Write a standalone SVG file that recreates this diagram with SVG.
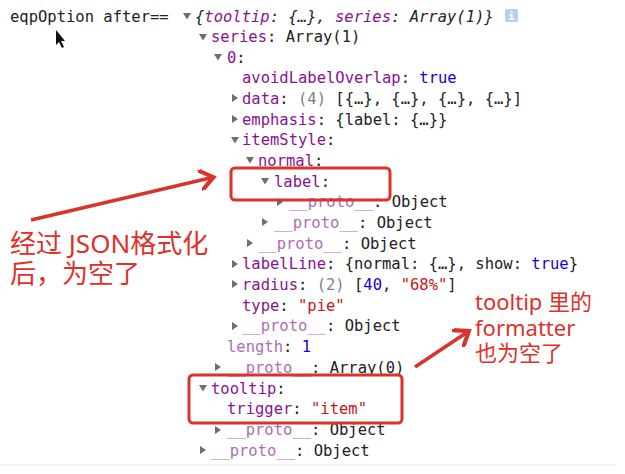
<svg xmlns="http://www.w3.org/2000/svg" width="625" height="474" viewBox="0 0 625 474">
<defs>
<style>
text{font-family:"DejaVu Sans Mono","Liberation Mono",monospace;font-size:15.5px;fill:#222}
.k{fill:#881391}.s{fill:#c41a16}.n{fill:#1c00cf}.g{fill:#808080}.p{fill:#b06cb6}
.r{font-family:"Noto Sans","Noto Sans CJK SC",sans-serif;fill:#e0302a}
.box{fill:none;stroke:#d9342b;stroke-width:3}
.arr{stroke:#d9342b;stroke-width:3.5;fill:none}
</style>
<marker id="ah" markerWidth="6" markerHeight="6" refX="3" refY="3" orient="auto" markerUnits="strokeWidth"><path d="M0,0 L4,3 L0,6" fill="none" stroke="#d9342b" stroke-width="1.2"/></marker>
<path id="tr" d="M0,-4 L6,0 L0,4Z" fill="#6e6e6e"/>
<path id="td" d="M-4,-3 L4,-3 L0,3.5Z" fill="#6e6e6e"/>
</defs>
<rect width="625" height="474" fill="#fff"/>
<g id="console">
<text x="10" y="22">eqpOption after==</text>
<use href="#td" x="187" y="16"/><text x="195" y="22" font-style="italic">{<tspan class="k">tooltip</tspan>: {…}, <tspan class="k">series</tspan>: Array(1)}</text>
<rect x="505" y="9" width="13" height="13" rx="2" fill="#b8cdf0"/><text x="508" y="20" style="fill:#fff;font-size:11px;font-weight:bold">i</text>
<use href="#td" x="203" y="37"/><text x="211" y="42"><tspan class="k">series</tspan>: Array(1)</text>
<use href="#td" x="218" y="57"/><text x="227" y="63"><tspan class="k">0</tspan>:</text>
<text x="242" y="83"><tspan class="k">avoidLabelOverlap</tspan>: <tspan class="n">true</tspan></text>
<use href="#tr" x="232" y="98"/><text x="242" y="104"><tspan class="k">data</tspan>: <tspan class="g">(4)</tspan> [{…}, {…}, {…}, {…}]</text>
<use href="#tr" x="232" y="119"/><text x="242" y="125"><tspan class="k">emphasis</tspan>: {label: {…}}</text>
<use href="#td" x="235" y="140"/><text x="242" y="145"><tspan class="k">itemStyle</tspan>:</text>
<use href="#td" x="250" y="160"/><text x="258" y="166"><tspan class="k">normal</tspan>:</text>
<use href="#td" x="265" y="181"/><text x="274" y="187"><tspan class="k">label</tspan>:</text>
<use href="#tr" x="277" y="202"/><text x="289" y="207"><tspan class="p">__proto__</tspan>: Object</text>
<use href="#tr" x="262" y="222"/><text x="274" y="228"><tspan class="p">__proto__</tspan>: Object</text>
<use href="#tr" x="247" y="243"/><text x="258" y="249"><tspan class="p">__proto__</tspan>: Object</text>
<use href="#tr" x="232" y="264"/><text x="242" y="269"><tspan class="k">labelLine</tspan>: {normal: {…}, show: <tspan class="n">true</tspan>}</text>
<use href="#tr" x="232" y="284"/><text x="242" y="290"><tspan class="k">radius</tspan>: <tspan class="g">(2)</tspan> [<tspan class="n">40</tspan>, <tspan class="s">"68%"</tspan>]</text>
<text x="242" y="311"><tspan class="k">type</tspan>: <tspan class="s">"pie"</tspan></text>
<use href="#tr" x="232" y="326"/><text x="242" y="331"><tspan class="p">__proto__</tspan>: Object</text>
<text x="227" y="352"><tspan class="p">length</tspan>: <tspan class="n">1</tspan></text>
<use href="#tr" x="215" y="367"/><text x="227" y="373"><tspan class="p">__proto__</tspan>: Array(0)</text>
<use href="#td" x="203" y="388"/><text x="211" y="394"><tspan class="k">tooltip</tspan>:</text>
<text x="227" y="414"><tspan class="k">trigger</tspan>: <tspan class="s">"item"</tspan></text>
<use href="#tr" x="215" y="430"/><text x="227" y="435"><tspan class="p">__proto__</tspan>: Object</text>
<use href="#tr" x="200" y="450"/><text x="211" y="456"><tspan class="p">__proto__</tspan>: Object</text>
<line x1="0" y1="465" x2="615" y2="465" stroke="#e6e6e6"/>
<path d="M56,30 L56,45 L59,42 L62,48 L64,47 L61,41 L65,41Z" fill="#111"/>
</g>
<g id="box-label"><rect class="box" x="231" y="168" width="159" height="32" rx="4"/></g>
<g id="box-tooltip"><rect class="box" x="189" y="375" width="213" height="48" rx="4"/></g>
<g id="connectors">
<line class="arr" x1="31" y1="220" x2="210" y2="178" marker-end="url(#ah)"/>
<line class="arr" x1="415" y1="367" x2="466" y2="333" marker-end="url(#ah)"/>
</g>
<g id="note-left">
<text class="r" x="10" y="253" style="font-size:26px">经过 JSON格式化</text>
<text class="r" x="10" y="283" style="font-size:26px">后，为空了</text>
</g>
<g id="note-right">
<text class="r" x="475" y="310" style="font-size:22px">tooltip 里的</text>
<text class="r" x="475" y="336" style="font-size:22px">formatter</text>
<text class="r" x="475" y="361" style="font-size:22px">也为空了</text>
</g>
</svg>
